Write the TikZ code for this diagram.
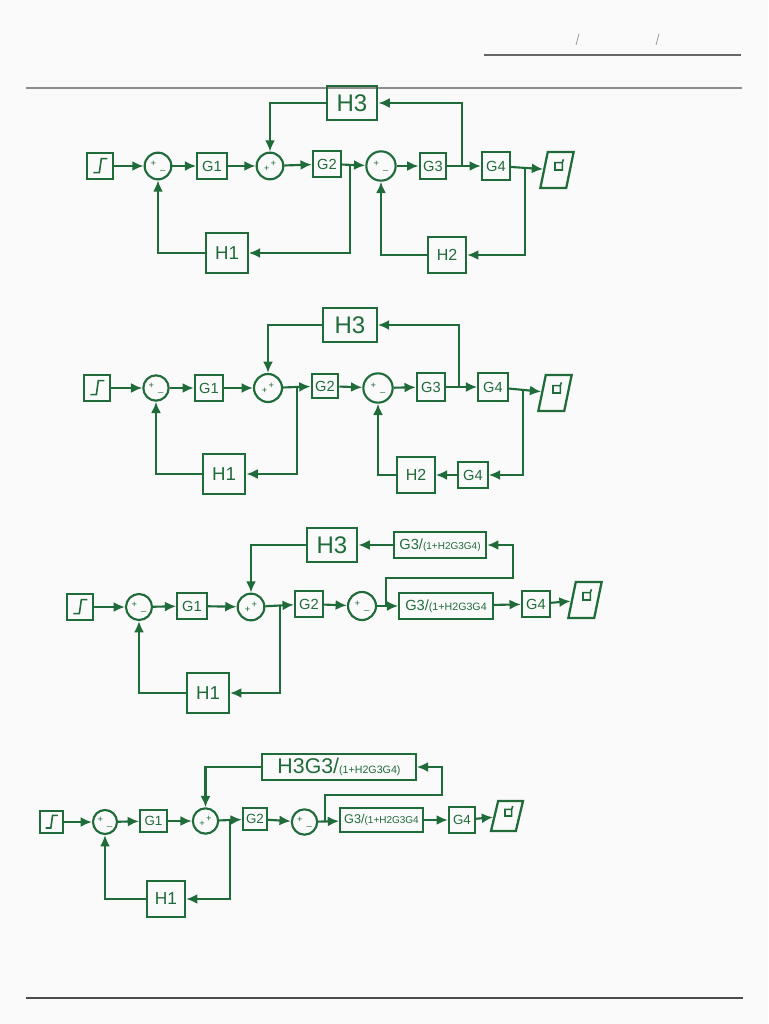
\documentclass[tikz,border=0pt]{standalone}
\usepackage{fontspec}
\setmainfont{Liberation Sans}
\usetikzlibrary{arrows.meta, shapes.geometric}
\definecolor{pen}{RGB}{31,107,58}
\definecolor{paper}{RGB}{250,250,250}
\newcommand{\sumneg}{{\fontsize{7}{7}\selectfont +\hspace{3pt}\raisebox{-2.5pt}{\_}}}
\newcommand{\sumpos}{{\fontsize{7}{7}\selectfont +\hspace{1pt}\raisebox{4pt}{+}}}
\newcommand{\fsz}[1]{\fontsize{#1}{#1}\selectfont}

\begin{document}
\begin{tikzpicture}[
      % GLOBAL CFG
      x=0.75pt, y=-0.75pt,
      font=\fsz{11},
      >={LaTeX[length=8.5pt,width=7.5pt]},
      % Styles
      blk/.style={% For transfer blocks
        rectangle,
        draw=pen,
        line width=1.7pt,
        text=pen,
        inner sep=1pt,
        minimum width=21pt,
        minimum height=20pt
      },
      hblk/.style={% For feedback blocks
        blk,
        font=\fsz{14},
        minimum width=30pt,
        minimum height=29pt
      },
      sumj/.style={% For summing points
        circle,
        draw=pen,
        line width=1.6pt,
        text=pen,
        inner sep=0pt,
        minimum size=20pt
      },
      src/.style={% Step input
        rectangle,
        draw=pen,
        line width=1.7pt,
        minimum size=19.5pt
      },
      scope/.style={% Output scope
        trapezium,
        trapezium left angle=68,
        trapezium right angle=112,
        trapezium stretches=true,
        draw=pen,
        line width=1.7pt,
        minimum width=25pt,
        minimum height=27pt
      },
      sig/.style={% Signal arrows
        draw=pen,
        line width=1.6pt,
        ->
      },
      glyph/.style={
        draw=pen,
        line width=1.2pt
      }
      ]

      % Page
      \fill [paper] (0,0) rectangle (768,1024);
      \useasboundingbox (0,0) rectangle (768,1024);
      \draw [black!60, line width=1pt] (484,55) -- (741,55);
      \draw [black!40, line width=0.6pt] (576,45) -- (579,34);
      \draw [black!40, line width=0.6pt] (656,45) -- (659,34);
      \draw [black!45, line width=1.2pt] (26,88) -- (742,88);
      \draw [black!70, line width=1.2pt] (26,998) -- (743,998);

      % First diagram:
      \node [src] (srcA) at (100,166) {};
      \node [sumj] (sumA1) at (158,166) {\sumneg};
      \node [blk, minimum width=22pt] (gA1) at (212,166) {G1};
      \node [sumj] (sumA2) at (270,166) {\sumpos};
      \node [blk, minimum height=19pt] (gA2) at (327,164) {G2};
      \node [sumj, minimum size=22pt] (sumA3) at (381,166) {\sumneg};
      \node [blk, minimum width=20pt] (gA3) at (433,166) {G3};
      \node [blk, minimum height=21pt] (gA4) at (496,166) {G4};
      \node [scope] (outA) at (557,170) {};
      \node [blk, font=\fsz{18}, minimum width=38pt, minimum height=26pt] (hA3) at (352,103) {H3};
      \node [hblk, minimum width=31pt, minimum height=30pt] (hA1) at (227,253) {H1};
      \node [hblk, font=\fsz{12}, minimum width=28.5pt, minimum height=27pt] (hA2) at (447,255) {H2};
      \coordinate (bA1) at (350,166);
      \coordinate (bA2) at (525,167);
      \coordinate (bA3) at (462,166);
      \draw [sig] (srcA) -- (sumA1);
      \draw [sig] (sumA1) -- (gA1);
      \draw [sig] (gA1) -- (sumA2);
      \draw [sig] (sumA2) -- (gA2);
      \draw [sig] (gA2) -- (sumA3);
      \draw [sig] (sumA3) -- (gA3);
      \draw [sig] (gA3) -- (gA4);
      \draw [sig] (gA4) -- (outA);
      \draw [sig] (bA3) |- (hA3);
      \draw [sig] (hA3) -| (sumA2);
      \draw [sig] (bA1) |- (hA1);
      \draw [sig] (hA1) -| (sumA1);
      \draw [sig] (bA2) |- (hA2);
      \draw [sig] (hA2) -| (sumA3);

      % Second diagram:
      \node [src, minimum size=19pt] (srcB) at (97,388) {};
      \node [sumj, minimum size=19pt] (sumB1) at (156,388) {\sumneg};
      \node [blk, minimum height=19pt] (gB1) at (209,388) {G1};
      \node [sumj, minimum size=21pt] (sumB2) at (268,388) {\sumpos};
      \node [blk, minimum width=20pt, minimum height=18pt] (gB2) at (325,386) {G2};
      \node [sumj, minimum size=22pt] (sumB3) at (378,388) {\sumneg};
      \node [blk, minimum height=21pt] (gB3) at (431,387) {G3};
      \node [blk, minimum width=22pt, minimum height=21pt] (gB4) at (493,387) {G4};
      \node [scope] (outB) at (555,393) {};
      \node [blk, font=\fsz{18}, minimum width=40pt, minimum height=26pt] (hB3) at (350,325) {H3};
      \node [hblk, minimum width=32pt, minimum height=30pt] (hB1) at (224,474) {H1};
      \node [blk, minimum width=22pt, minimum height=19.5pt] (gB5) at (473,475) {G4};
      \node [hblk, font=\fsz{12}, minimum width=28pt, minimum height=27pt] (hB2) at (416,475) {H2};
      \coordinate (bB1) at (297,388);
      \coordinate (bB2) at (523,389);
      \coordinate (bB3) at (459,387);
      \draw [sig] (srcB) -- (sumB1);
      \draw [sig] (sumB1) -- (gB1);
      \draw [sig] (gB1) -- (sumB2);
      \draw [sig] (sumB2) -- (gB2);
      \draw [sig] (gB2) -- (sumB3);
      \draw [sig] (sumB3) -- (gB3);
      \draw [sig] (gB3) -- (gB4);
      \draw [sig] (gB4) -- (outB);
      \draw [sig] (bB3) |- (hB3);
      \draw [sig] (hB3) -| (sumB2);
      \draw [sig] (bB1) |- (hB1);
      \draw [sig] (hB1) -| (sumB1);
      \draw [sig] (bB2) |- (gB5);
      \draw [sig] (gB5) -- (hB2);
      \draw [sig] (hB2) -| (sumB3);

      % Third diagram:
      \node [src, minimum size=20pt] (srcC) at (80,607) {};
      \node [sumj, minimum size=19.5pt] (sumC1) at (139,607) {\sumneg};
      \node [blk, minimum width=22pt, minimum height=19.5pt] (gC1) at (192,606) {G1};
      \node [sumj] (sumC2) at (251,607) {\sumpos};
      \node [blk, minimum height=19.5pt] (gC2) at (309,604) {G2};
      \node [sumj, minimum size=21pt] (sumC3) at (362,606) {\sumneg};
      \node [blk, minimum width=70pt, minimum height=20pt] (gC3) at (446,606) {{\fsz{11}G3/}{\fsz{8}(1+H2G3G4}};
      \node [blk, minimum height=19.5pt] (gC4) at (536,604) {G4};
      \node [scope] (outC) at (585,600) {};
      \node [blk, minimum width=69pt, minimum height=20pt] (gC5) at (440,545) {{\fsz{11}G3/}{\fsz{7.5}(1+H2G3G4)}};
      \node [blk, font=\fsz{18}, minimum width=38pt, minimum height=26pt] (hC3) at (332,545) {H3};
      \node [hblk, minimum width=31.5pt, minimum height=30pt] (hC1) at (208,693) {H1};
      \coordinate (bC1) at (280,606);
      \coordinate (bC3) at (386,606);
      \coordinate (cC3) at (513,578);
      \draw [sig] (srcC) -- (sumC1);
      \draw [sig] (sumC1) -- (gC1);
      \draw [sig] (gC1) -- (sumC2);
      \draw [sig] (sumC2) -- (gC2);
      \draw [sig] (gC2) -- (sumC3);
      \draw [sig] (sumC3) -- (gC3);
      \draw [sig] (gC3) -- (gC4);
      \draw [sig] (gC4) -- (outC);
      \draw [sig] (bC3) |- (cC3) |- (gC5);
      \draw [sig] (gC5) -- (hC3);
      \draw [sig] (hC3) -| (sumC2);
      \draw [sig] (bC1) |- (hC1);
      \draw [sig] (hC1) -| (sumC1);

      % Fourth diagram:
      \node [src, minimum size=17pt] (srcD) at (51.5,822) {};
      \node [sumj, minimum size=18pt] (sumD1) at (105,822) {\sumneg};
      \node [blk, font=\fsz{10}, minimum width=20pt, minimum height=17pt] (gD1) at (153.5,821) {G1};
      \node [sumj, minimum size=19pt] (sumD2) at (205.5,821) {\sumpos};
      \node [blk, font=\fsz{10}, minimum width=18pt, minimum height=17pt] (gD2) at (255,819) {G2};
      \node [sumj, minimum size=19pt] (sumD3) at (304.5,822) {\sumneg};
      \node [blk, minimum width=62pt, minimum height=18pt] (gD3) at (381.5,820) {{\fsz{9.5}G3/}{\fsz{7.5}(1+H2G3G4}};
      \node [blk, font=\fsz{10}, minimum width=19.5pt, minimum height=19pt] (gD4) at (462,820) {G4};
      \node [scope, minimum width=24pt, minimum height=22.5pt] (outD) at (507,816) {};
      \node [blk, minimum width=115pt, minimum height=19pt] (hD3) at (339,767) {{\fsz{16}H3G3/}{\fsz{8}(1+H2G3G4)}};
      \node [hblk, font=\fsz{13}, minimum width=28.5pt, minimum height=27pt] (hD1) at (166,899) {H1};
      \coordinate (bD1) at (230,820);
      \coordinate (bD3) at (325,821);
      \coordinate (cD3) at (442,795);
      \draw [sig] (srcD) -- (sumD1);
      \draw [sig] (sumD1) -- (gD1);
      \draw [sig] (gD1) -- (sumD2);
      \draw [sig] (sumD2) -- (gD2);
      \draw [sig] (gD2) -- (sumD3);
      \draw [sig] (sumD3) -- (gD3);
      \draw [sig] (gD3) -- (gD4);
      \draw [sig] (gD4) -- (outD);
      \draw [sig] (bD3) |- (cD3) |- (hD3);
      \draw [sig] (hD3) -| (sumD2);
      \draw [sig] (bD1) |- (hD1);
      \draw [sig] (hD1) -| (sumD1);

      % Step signs and scope screens
      \draw [glyph] ([xshift=-5pt,yshift=-5pt]srcA.center) -- ++(4.5pt,0) -- ++(1.5pt,10.5pt) -- ++(4.5pt,0);
      \draw [glyph] ([xshift=-5pt,yshift=-5pt]srcB.center) -- ++(4.5pt,0) -- ++(1.5pt,10.5pt) -- ++(4.5pt,0);
      \draw [glyph] ([xshift=-5pt,yshift=-5pt]srcC.center) -- ++(4.5pt,0) -- ++(1.5pt,10.5pt) -- ++(4.5pt,0);
      \draw [glyph] ([xshift=-4.5pt,yshift=-4.5pt]srcD.center) -- ++(4pt,0) -- ++(1.3pt,9.5pt) -- ++(4pt,0);
      \draw [glyph] ([xshift=-1.5pt]outA.center) rectangle ++(5.5pt,5.5pt) -- ++(0.8pt,2.5pt);
      \draw [glyph] ([xshift=-1.5pt]outB.center) rectangle ++(5.5pt,5.5pt) -- ++(0.8pt,2.5pt);
      \draw [glyph] ([xshift=-1.5pt]outC.center) rectangle ++(5.5pt,5.5pt) -- ++(0.8pt,2.5pt);
      \draw [glyph] ([xshift=-1.5pt]outD.center) rectangle ++(5pt,5pt) -- ++(0.8pt,2.5pt);

    \end{tikzpicture}
\end{document}
